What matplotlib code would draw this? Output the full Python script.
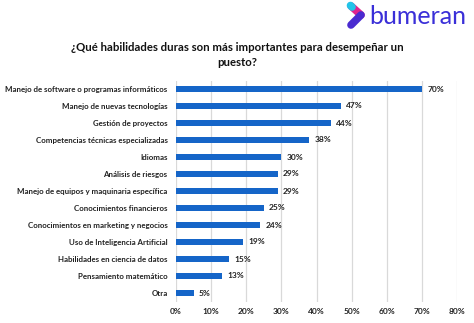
import matplotlib.pyplot as plt
from matplotlib.lines import Line2D
from matplotlib.ticker import FuncFormatter, MultipleLocator

categories = [
    "Manejo de software o programas informáticos",
    "Manejo de nuevas tecnologías",
    "Gestión de proyectos",
    "Competencias técnicas especializadas",
    "Idiomas",
    "Análisis de riesgos",
    "Manejo de equipos y maquinaria específica",
    "Conocimientos financieros",
    "Conocimientos en marketing y negocios",
    "Uso de Inteligencia Artificial",
    "Habilidades en ciencia de datos",
    "Pensamiento matemático",
    "Otra",
]
values = [70, 47, 44, 38, 30, 29, 29, 25, 24, 19, 15, 13, 5]
title = "¿Qué habilidades duras son más importantes para desempeñar un\npuesto?"

W, H = 474, 323
plt.rcParams["font.family"] = ["Lato", "DejaVu Sans"]

fig = plt.figure(figsize=(W / 100, H / 100), dpi=100)
ax = fig.add_axes([176 / W, 1 - 301.5 / H, (457 - 176) / W, 221 / H])

y = list(range(len(categories)))
ax.barh(y, values, height=0.38, color="#1565c8", zorder=3)
for yi, v in zip(y, values):
    ax.text(v + 1.5, yi, f"{v}%", va="center", ha="left", fontsize=6,
            fontweight="bold", color="#222222")

ax.set_ylim(len(categories) - 0.5, -0.5)
ax.set_xlim(0, 80)
ax.set_yticks(y)
ax.set_yticklabels(categories, fontsize=5.7, fontweight="bold", color="#222222")
ax.xaxis.set_major_locator(MultipleLocator(10))
ax.xaxis.set_major_formatter(FuncFormatter(lambda v, _: f"{v:.0f}%"))
ax.tick_params(axis="x", labelsize=6, length=0, pad=5, labelcolor="#222222")
ax.tick_params(axis="y", length=0, pad=6)
for lab in ax.get_xticklabels():
    lab.set_fontweight("bold")
ax.grid(axis="x", color="#d9d9d9", linewidth=0.9, zorder=0)
for s in ax.spines.values():
    s.set_visible(False)

fig.text(237 / W, 1 - 55 / H, title, ha="center", va="center", fontsize=8.2,
         fontweight="bold", color="#111111", linespacing=1.4)

# logo
lw = 5.5
fig.add_artist(Line2D([351 / W, 361 / W], [1 - 6 / H, 1 - 15 / H], color="#e0238f",
                      linewidth=lw, solid_capstyle="round", transform=fig.transFigure))
fig.add_artist(Line2D([350.5 / W, 352 / W], [1 - 5.5 / H, 1 - 7 / H], color="#22c4e8",
                      linewidth=lw, solid_capstyle="round", transform=fig.transFigure))
fig.add_artist(Line2D([361 / W, 351 / W], [1 - 15 / H, 1 - 25 / H], color="#4a2bd0",
                      linewidth=lw, solid_capstyle="round", transform=fig.transFigure))
fig.text(369 / W, 1 - 24 / H, "bumeran", ha="left", va="baseline", fontsize=18,
         color="#3a2fd8")

fig.savefig("out.png", dpi=100)
